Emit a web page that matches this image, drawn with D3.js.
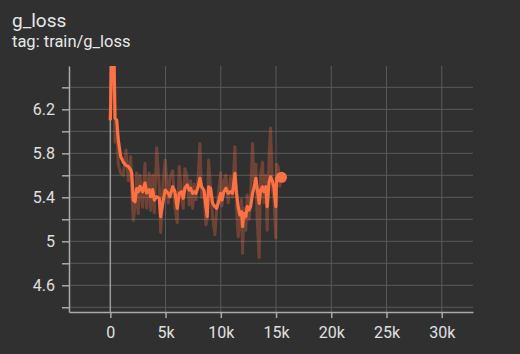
<!DOCTYPE html>
<html>
<head>
<meta charset="utf-8">
<script src="https://cdn.jsdelivr.net/npm/d3@7"></script>
<style>
  body { margin: 0; background: #303030; }
  svg { display: block; font-family: Roboto, "Noto Sans", sans-serif; }
</style>
</head>
<body>
<div id="chart"></div>
<script>
//----------data---------
const steps = [0, 250, 425, 580, 723, 940, 1175, 1420, 1628, 1845, 1935, 2080, 2233, 2387, 2532, 2686, 2930, 3138, 3291, 3526,
  3653, 3834, 3979, 4196, 4431, 4557, 4792, 4973, 5244, 5398, 5642, 5850, 6058, 6239, 6456, 6601, 6754, 6962, 7143, 7270,
  7451, 7595, 7749, 7957, 8111, 8264, 8472, 8653, 8771, 8898, 9078, 9259, 9467, 9621, 9802, 9983, 10100, 10281, 10462, 10670,
  10887, 11068, 11275, 11429, 11574, 11728, 11881, 11972, 12089, 12270, 12388, 12569, 12695, 12876, 12994, 13175, 13292, 13473, 13600, 13780,
  13898, 14079, 14196, 14377, 14504, 14685, 14802, 14983, 15046, 15191, 15345, 15499];

// smoothed g_loss
const smoothed = [6.10, 7.20, 6.12, 6.10, 5.92, 5.77, 5.72, 5.69, 5.68, 5.65, 5.62, 5.375, 5.36, 5.48, 5.45, 5.50, 5.45, 5.53, 5.44, 5.47,
  5.405, 5.47, 5.375, 5.405, 5.39, 5.224, 5.375, 5.466, 5.436, 5.405, 5.496, 5.451, 5.30, 5.436, 5.451, 5.391, 5.482, 5.512, 5.466, 5.482,
  5.436, 5.451, 5.436, 5.496, 5.573, 5.496, 5.466, 5.315, 5.224, 5.496, 5.482, 5.345, 5.315, 5.30, 5.36, 5.436, 5.375, 5.451, 5.482, 5.436,
  5.451, 5.436, 5.618, 5.436, 5.315, 5.239, 5.269, 5.133, 5.255, 5.224, 5.315, 5.285, 5.315, 5.436, 5.482, 5.573, 5.482, 5.345, 5.466, 5.496,
  5.451, 5.496, 5.315, 5.542, 5.587, 5.542, 5.496, 5.315, 5.573, 5.603, 5.557, 5.582];

// raw g_loss (faded line)
const raw = [6.10, 8.00, 5.90, 6.05, 5.70, 5.62, 5.60, 5.83, 5.55, 5.77, 5.45, 5.19, 5.30, 5.62, 5.25, 5.60, 5.31, 5.71, 5.30, 5.62,
  5.28, 5.60, 5.26, 5.85, 5.50, 5.08, 5.55, 5.74, 5.35, 5.58, 5.64, 5.30, 5.17, 5.68, 5.40, 5.30, 5.66, 5.58, 5.33, 5.55,
  5.30, 5.52, 5.38, 5.60, 5.89, 5.40, 5.45, 5.15, 5.20, 5.74, 5.48, 5.22, 5.06, 5.28, 5.45, 5.62, 5.32, 5.55, 5.60, 5.35,
  5.58, 5.40, 5.86, 5.30, 5.04, 5.15, 5.38, 4.89, 5.30, 5.10, 5.42, 5.20, 5.40, 5.89, 5.55, 5.70, 5.20, 4.85, 5.60, 5.72,
  5.35, 5.60, 5.10, 5.80, 6.03, 5.45, 5.40, 5.03, 5.70, 5.68, 5.50, 5.62];

const yTicks = [4.4, 4.6, 4.8, 5, 5.2, 5.4, 5.6, 5.8, 6, 6.2, 6.4];
const yLabels = [4.6, 5, 5.4, 5.8, 6.2];
const xTicks = [0, 5000, 10000, 15000, 20000, 25000, 30000];

const title = "g_loss";
const tag = "tag: train/g_loss";

//----------layout---------
const width = 520, height = 354;
const plot = {left: 69, right: 473, top: 66, bottom: 312};
const lineColor = "#ff7043";

const svg = d3.select("#chart").append("svg")
  .attr("width", width)
  .attr("height", height);

svg.append("rect").attr("width", width).attr("height", height).attr("fill", "#303030");

// titles
svg.append("text").attr("x", 12).attr("y", 27)
  .attr("fill", "#e8e8e8").attr("font-size", 19).text(title);
svg.append("text").attr("x", 12).attr("y", 47)
  .attr("fill", "#e8e8e8").attr("font-size", 16.5).text(tag);

// scales
const x = d3.scaleLinear().domain([-3740, 32830]).range([plot.left, plot.right]);
const y = d3.scaleLinear().domain([4.357, 6.594]).range([plot.bottom, plot.top]);

// grid
let grid = svg.append("g");
grid.selectAll(".hgrid").data(yTicks).join("line")
  .attr("x1", plot.left).attr("x2", plot.right)
  .attr("y1", d => y(d)).attr("y2", d => y(d))
  .attr("stroke", "#5a5a5a").attr("stroke-width", 1);
grid.selectAll(".vgrid").data(xTicks).join("line")
  .attr("x1", d => x(d)).attr("x2", d => x(d))
  .attr("y1", plot.top).attr("y2", plot.bottom)
  .attr("stroke", d => d == 0 ? "#9a9a9a" : "#5a5a5a").attr("stroke-width", d => d == 0 ? 1.5 : 1);

// axes
const yAxis = d3.axisLeft(y)
  .tickValues(yTicks)
  .tickSize(7)
  .tickPadding(7)
  .tickFormat(d => yLabels.some(v => Math.abs(v - d) < 1e-9) ? d3.format("~g")(d) : "");
const xAxis = d3.axisBottom(x)
  .tickValues(xTicks)
  .tickSize(6)
  .tickPadding(9)
  .tickFormat(d => d == 0 ? "0" : (d / 1000) + "k");

function styleAxis(g) {
  g.select(".domain").attr("stroke", "#aaaaaa").attr("stroke-width", 1.5);
  g.selectAll(".tick line").attr("stroke", "#aaaaaa").attr("stroke-width", 1.5);
  g.selectAll(".tick text").attr("fill", "#e0e0e0").attr("font-size", 16)
    .attr("font-family", "Roboto, 'Noto Sans', sans-serif");
}

svg.append("g")
  .attr("transform", `translate(${plot.left},0)`)
  .call(yAxis.tickSizeOuter(0))
  .call(styleAxis);
svg.append("g")
  .attr("transform", `translate(0,${plot.bottom})`)
  .call(xAxis.tickSizeOuter(0))
  .call(styleAxis);

// clip lines to the plot area
svg.append("clipPath").attr("id", "clip")
  .append("rect")
  .attr("x", plot.left).attr("y", plot.top)
  .attr("width", plot.right - plot.left).attr("height", plot.bottom - plot.top);

let rawPts = steps.map((s, i) => [s, raw[i]]);
let smPts = steps.map((s, i) => [s, smoothed[i]]);

const line = d3.line().x(d => x(d[0])).y(d => y(d[1]));

let lines = svg.append("g").attr("clip-path", "url(#clip)");
lines.append("path")
  .datum(rawPts)
  .attr("d", line)
  .attr("fill", "none")
  .attr("stroke", lineColor)
  .attr("stroke-opacity", 0.3)
  .attr("stroke-width", 3)
  .attr("stroke-linejoin", "round");
lines.append("path")
  .datum(smPts)
  .attr("d", line)
  .attr("fill", "none")
  .attr("stroke", lineColor)
  .attr("stroke-width", 3.2)
  .attr("stroke-linejoin", "round");

// end dot
let last = smPts[smPts.length - 1];
svg.append("circle")
  .attr("cx", x(last[0])).attr("cy", y(last[1]))
  .attr("r", 5.5)
  .attr("fill", lineColor);
</script>
</body>
</html>
